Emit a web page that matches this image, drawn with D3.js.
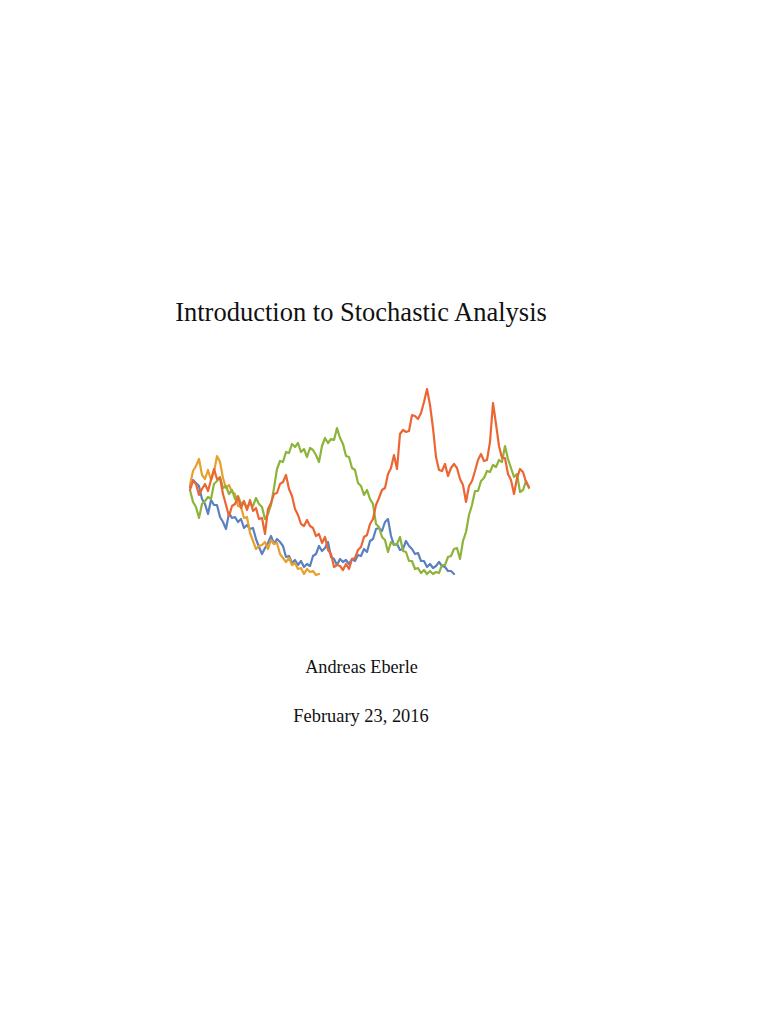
<!DOCTYPE html>
<html>
<head>
<meta charset="utf-8">
<script src="https://cdn.jsdelivr.net/npm/d3@7"></script>
<style>
  html, body { margin: 0; padding: 0; background: #fff; }
  svg { display: block; }
</style>
</head>
<body>
<svg id="chart" width="768" height="1024"></svg>
<script>
// Texts
const title = "Introduction to Stochastic Analysis";
const author = "Andreas Eberle";
const dateText = "February 23, 2016";

// Path values (equally spaced time steps), one array per path
const bluePath = [
  -2, 5, 2, -1, -14, -19, -29, -15, -20, -20,
  -32, -37, -44, -28, -33, -32, -37, -34, -43, -40,
  -44, -43, -54, -62, -69, -63, -58, -51, -59, -54,
  -57, -61, -72, -71, -78, -75, -80, -76, -82, -79,
  -81, -71, -69, -61, -66, -63, -57, -72, -74, -80,
  -74, -77, -75, -79, -74, -76, -70, -71, -64, -67,
  -56, -54, -44, -43, -46, -37, -34, -51, -60, -59,
  -65, -64, -56, -61, -64, -69, -68, -76, -76, -82,
  -79, -83, -81, -77, -81, -82, -86, -86, -89
];
const orangePath = [
  0, 14, 19, 26, 10, 6, 15, 5, 13, 29,
  23, 7, -3, 0, -7, -9, -21, -22, -33, -32,
  -48, -56, -64, -61, -60, -57, -64, -55, -59, -58,
  -69, -73, -77, -73, -80, -78, -84, -83, -89, -84,
  -87, -86, -90, -89
];
const greenPath = [
  -5, -17, -22, -33, -19, -16, -12, -14, 1, 4,
  8, -3, -1, -9, -5, -14, -11, -19, -17, -23,
  -18, -21, -13, -19, -22, -34, -29, -20, -3, 16,
  24, 23, 33, 32, 41, 38, 42, 33, 36, 28,
  37, 35, 30, 23, 39, 47, 42, 46, 45, 57,
  47, 41, 29, 28, 17, 15, 2, -1, -10, -5,
  -14, -19, -39, -42, -52, -55, -67, -57, -60, -59,
  -52, -66, -67, -76, -76, -84, -83, -88, -85, -89,
  -86, -89, -87, -88, -80, -80, -72, -71, -64, -63,
  -74, -56, -47, -30, -20, -6, -6, 4, 7, 14,
  13, 20, 18, 25, 23, 39, 26, 17, 8, 11,
  -7, -5, 4, -3
];
const redPath = [
  -5, 4, 1, -10, -4, 1, -6, 5, 16, 6,
  7, -9, -20, -31, -21, -19, -12, -23, -16, -25,
  -15, -26, -23, -34, -33, -49, -24, -18, -9, -8,
  1, 3, 10, -4, -11, -24, -30, -39, -41, -35,
  -41, -43, -51, -49, -58, -52, -65, -69, -82, -80,
  -81, -85, -79, -84, -74, -73, -65, -62, -52, -50,
  -39, -34, -20, -13, -5, -3, 11, 17, 30, 16,
  51, 55, 53, 54, 70, 69, 66, 72, 83, 96,
  80, 57, 28, 15, 14, 21, 9, 17, 21, 17,
  6, 0, -17, -1, 4, 14, 25, 31, 24, 25,
  43, 82, 61, 39, 27, 27, 11, 5, -9, 7,
  16, 13, 3, -2
];

const seriesNames = ["blue", "orange", "green", "red"];
const seriesColors = ["#5b80c2", "#e8a02c", "#8db43a", "#ec6634"];
const seriesData = [bluePath, orangePath, greenPath, redPath];

const svg = d3.select("#chart");

const x = d3.scaleLinear().domain([0, 113]).range([190, 529]);
const y = d3.scaleLinear().domain([-90, 96]).range([575, 389]);

const line = d3.line()
  .x((d, i) => x(i))
  .y(d => y(d))
  .curve(d3.curveLinear);

svg.append("g")
  .selectAll("path")
  .data(seriesData)
  .join("path")
  .attr("d", d => line(d))
  .attr("fill", "none")
  .attr("stroke", (d, i) => seriesColors[i])
  .attr("stroke-width", 2.2)
  .attr("stroke-linejoin", "round")
  .attr("stroke-linecap", "round");

const serif = "'Liberation Serif', 'Times New Roman', serif";

svg.append("text")
  .attr("x", 361).attr("y", 321)
  .attr("text-anchor", "middle")
  .attr("font-family", serif)
  .attr("font-size", 26.5)
  .attr("fill", "#111")
  .text(title);

svg.append("text")
  .attr("x", 361.5).attr("y", 672.5)
  .attr("text-anchor", "middle")
  .attr("font-family", serif)
  .attr("font-size", 18.2)
  .attr("fill", "#111")
  .text(author);

svg.append("text")
  .attr("x", 361).attr("y", 721.5)
  .attr("text-anchor", "middle")
  .attr("font-family", serif)
  .attr("font-size", 18.4)
  .attr("fill", "#111")
  .text(dateText);
</script>
</body>
</html>
